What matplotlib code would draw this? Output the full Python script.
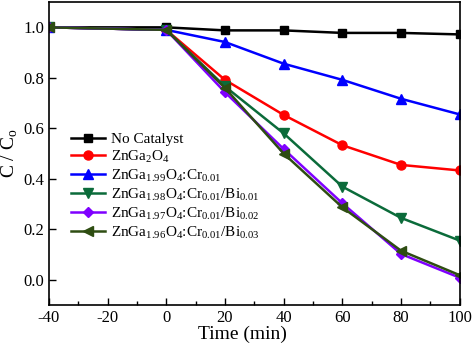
import matplotlib
matplotlib.use("Agg")
import matplotlib.pyplot as plt
from matplotlib.ticker import MultipleLocator

plt.rcParams['font.family'] = ['Liberation Serif', 'DejaVu Serif']
plt.rcParams['mathtext.fontset'] = 'custom'
plt.rcParams['mathtext.rm'] = 'Liberation Serif'
plt.rcParams['axes.unicode_minus'] = False

time = [-40, 0, 20, 40, 60, 80, 100]

no_catalyst = [1.0, 1.0, 0.988, 0.988, 0.978, 0.978, 0.972]
zga = [1.0, 0.99, 0.792, 0.653, 0.533, 0.455, 0.433]
cr = [1.0, 0.99, 0.942, 0.856, 0.792, 0.717, 0.655]
bi01 = [1.0, 0.99, 0.766, 0.58, 0.369, 0.245, 0.155]
bi02 = [1.0, 0.99, 0.743, 0.518, 0.303, 0.102, 0.008]
bi03 = [1.0, 0.99, 0.76, 0.50, 0.287, 0.115, 0.018]

labels = [
    'No Catalyst',
    r'ZnGa$_\mathregular{2}$O$_\mathregular{4}$',
    r'ZnGa$_\mathregular{1.99}$O$_\mathregular{4}$:Cr$_\mathregular{0.01}$',
    r'ZnGa$_\mathregular{1.98}$O$_\mathregular{4}$:Cr$_\mathregular{0.01}$/Bi$_\mathregular{0.01}$',
    r'ZnGa$_\mathregular{1.97}$O$_\mathregular{4}$:Cr$_\mathregular{0.01}$/Bi$_\mathregular{0.02}$',
    r'ZnGa$_\mathregular{1.96}$O$_\mathregular{4}$:Cr$_\mathregular{0.01}$/Bi$_\mathregular{0.03}$',
]
series = [no_catalyst, zga, cr, bi01, bi02, bi03]
colors = ['#000000', '#ff0000', '#0000ff', '#0b6b3a', '#7f00ff', '#2e4d12']
markers = ['s', 'o', '^', 'v', 'D', '<']
sizes = [6, 6.5, 7, 7, 5.5, 7]

fig = plt.figure(figsize=(4.74, 3.53), dpi=100)
ax = fig.add_axes([0.103, 0.136, 0.867, 0.858])

for y, lab, c, m, s in zip(series, labels, colors, markers, sizes):
    ax.plot(time, y, color=c, marker=m, markersize=s, linewidth=1.8, label=lab)

ax.set_xlim(-40, 100)
ax.set_ylim(-0.1, 1.1)
ax.xaxis.set_major_locator(MultipleLocator(20))
ax.xaxis.set_minor_locator(MultipleLocator(10))
ax.set_yticks([0.0, 0.2, 0.4, 0.6, 0.8, 1.0])
ax.tick_params(direction='in', labelsize=12, length=5, width=1)
ax.tick_params(which='minor', direction='in', length=3, width=1)
ax.set_xlabel('Time (min)', fontsize=14, labelpad=0, x=0.472)
ax.set_ylabel(r'C / C$_\mathregular{o}$', fontsize=14, labelpad=2)
for sp in ax.spines.values():
    sp.set_linewidth(1.2)

ax.legend(loc='upper left', bbox_to_anchor=(0.04, 0.59), frameon=False,
          fontsize=11, handlelength=2.2, labelspacing=0.15, handletextpad=0.4,
          borderaxespad=0)

fig.savefig('out.png', dpi=100)
